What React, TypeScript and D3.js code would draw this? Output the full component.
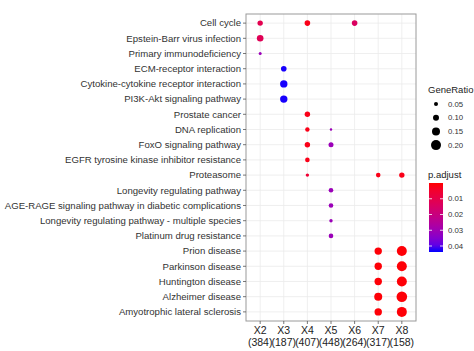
import React from "react";
import * as d3 from "d3";

const pathways = [
  "Cell cycle",
  "Epstein-Barr virus infection",
  "Primary immunodeficiency",
  "ECM-receptor interaction",
  "Cytokine-cytokine receptor interaction",
  "PI3K-Akt signaling pathway",
  "Prostate cancer",
  "DNA replication",
  "FoxO signaling pathway",
  "EGFR tyrosine kinase inhibitor resistance",
  "Proteasome",
  "Longevity regulating pathway",
  "AGE-RAGE signaling pathway in diabetic complications",
  "Longevity regulating pathway - multiple species",
  "Platinum drug resistance",
  "Prion disease",
  "Parkinson disease",
  "Huntington disease",
  "Alzheimer disease",
  "Amyotrophic lateral sclerosis",
];

const clusters = ["X2", "X3", "X4", "X5", "X6", "X7", "X8"];
const clusterCounts = ["(384)", "(187)", "(407)", "(448)", "(264)", "(317)", "(158)"];

const dotPathway = [
  "Cell cycle", "Cell cycle", "Cell cycle",
  "Epstein-Barr virus infection",
  "Primary immunodeficiency",
  "ECM-receptor interaction",
  "Cytokine-cytokine receptor interaction",
  "PI3K-Akt signaling pathway",
  "Prostate cancer",
  "DNA replication", "DNA replication",
  "FoxO signaling pathway", "FoxO signaling pathway",
  "EGFR tyrosine kinase inhibitor resistance",
  "Proteasome", "Proteasome", "Proteasome",
  "Longevity regulating pathway",
  "AGE-RAGE signaling pathway in diabetic complications",
  "Longevity regulating pathway - multiple species",
  "Platinum drug resistance",
  "Prion disease", "Prion disease",
  "Parkinson disease", "Parkinson disease",
  "Huntington disease", "Huntington disease",
  "Alzheimer disease", "Alzheimer disease",
  "Amyotrophic lateral sclerosis", "Amyotrophic lateral sclerosis",
];
const dotCluster = [
  "X2", "X4", "X6",
  "X2",
  "X2",
  "X3",
  "X3",
  "X3",
  "X4",
  "X4", "X5",
  "X4", "X5",
  "X4",
  "X4", "X7", "X8",
  "X5",
  "X5",
  "X5",
  "X5",
  "X7", "X8",
  "X7", "X8",
  "X7", "X8",
  "X7", "X8",
  "X7", "X8",
];
const dotGeneRatio = [
  0.085, 0.09, 0.09,
  0.115,
  0.025,
  0.09,
  0.135,
  0.135,
  0.085,
  0.06, 0.012,
  0.085, 0.075,
  0.065,
  0.035, 0.065, 0.085,
  0.065,
  0.065,
  0.035,
  0.065,
  0.135, 0.2,
  0.135, 0.2,
  0.135, 0.2,
  0.15, 0.215,
  0.135, 0.2,
];
const dotPAdjust = [
  0.011, 0.002, 0.014,
  0.012,
  0.031,
  0.0435,
  0.0435,
  0.0435,
  0.002,
  0.002, 0.031,
  0.002, 0.031,
  0.002,
  0.006, 0.002, 0.002,
  0.031,
  0.031,
  0.031,
  0.031,
  0.0005, 0.0005,
  0.0005, 0.0005,
  0.0005, 0.0005,
  0.0005, 0.0005,
  0.0005, 0.0005,
];

const sizeTicks = [0.05, 0.1, 0.15, 0.2];
const sizeTickLabels = ["0.05", "0.10", "0.15", "0.20"];
const colorTicks = [0.01, 0.02, 0.03, 0.04];
const colorTickLabels = ["0.01", "0.02", "0.03", "0.04"];

const FONT = "'Liberation Sans', Arial, sans-serif";

export default function App() {
  const W = 474;
  const H = 351;
  const panel = { left: 246, right: 416, top: 14, bottom: 321 };

  const x = d3
    .scalePoint<string>()
    .domain(clusters)
    .range([panel.left, panel.right])
    .padding(0.6);
  const y = d3
    .scalePoint<string>()
    .domain(pathways)
    .range([panel.top, panel.bottom])
    .padding(0.6);

  const r = d3.scaleLinear().domain([0, 0.2]).range([1.0, 5.0]);
  const colorDomain = [0, 0.0438];
  const color = d3
    .scaleLinear<string>()
    .domain(colorDomain)
    .range(["#ff0000", "#0000ff"])
    .interpolate(d3.interpolateLab);

  const bar = { x: 429, w: 14, top: 183, bottom: 252 };
  const barY = d3.scaleLinear().domain(colorDomain).range([bar.top, bar.bottom]);
  const gradStops = d3.range(0, 11).map((i) => i / 10);

  const dots = dotPathway.map((p, i) => ({
    p,
    c: dotCluster[i],
    g: dotGeneRatio[i],
    a: dotPAdjust[i],
  }));

  return (
    <svg
      width={W}
      height={H}
      style={{ position: "absolute", left: 0, top: 0, background: "#fff" }}
      fontFamily={FONT}
    >
      <defs>
        <linearGradient id="pgrad" x1="0" y1="0" x2="0" y2="1">
          {gradStops.map((t) => (
            <stop
              key={t}
              offset={t}
              stopColor={color(colorDomain[0] + t * (colorDomain[1] - colorDomain[0]))}
            />
          ))}
        </linearGradient>
      </defs>
      <rect x={0} y={0} width={W} height={H} fill="#fff" />
      {/* grid */}
      {clusters.map((c) => (
        <line
          key={"gx" + c}
          x1={x(c)}
          x2={x(c)}
          y1={panel.top}
          y2={panel.bottom}
          stroke="#ebebeb"
          strokeWidth={0.8}
        />
      ))}
      {pathways.map((p) => (
        <line
          key={"gy" + p}
          x1={panel.left}
          x2={panel.right}
          y1={y(p)}
          y2={y(p)}
          stroke="#ebebeb"
          strokeWidth={0.8}
        />
      ))}
      {/* dots */}
      {dots.map((d, i) => (
        <circle
          key={i}
          cx={x(d.c)}
          cy={y(d.p)}
          r={r(d.g)}
          fill={color(d.a)}
        />
      ))}
      {/* border */}
      <rect
        x={panel.left}
        y={panel.top}
        width={panel.right - panel.left}
        height={panel.bottom - panel.top}
        fill="none"
        stroke="#9a9a9a"
        strokeWidth={1}
      />
      {/* y axis */}
      {pathways.map((p) => (
        <g key={"ya" + p}>
          <line
            x1={panel.left - 3}
            x2={panel.left}
            y1={y(p)}
            y2={y(p)}
            stroke="#555"
            strokeWidth={0.8}
          />
          <text
            x={panel.left - 5}
            y={y(p)}
            dy="0.35em"
            textAnchor="end"
            fontSize={9.6}
            fill="#333"
          >
            {p}
          </text>
        </g>
      ))}
      {/* x axis */}
      {clusters.map((c, i) => (
        <g key={"xa" + c}>
          <line
            x1={x(c)}
            x2={x(c)}
            y1={panel.bottom}
            y2={panel.bottom + 3}
            stroke="#555"
            strokeWidth={0.8}
          />
          <text x={x(c)} y={334} textAnchor="middle" fontSize={10.5} fill="#222">
            {c}
          </text>
          <text x={x(c)} y={346} textAnchor="middle" fontSize={10.5} fill="#222">
            {clusterCounts[i]}
          </text>
        </g>
      ))}
      {/* size legend */}
      <text x={428} y={93} fontSize={9.5} fill="#222">
        GeneRatio
      </text>
      {sizeTicks.map((t, i) => (
        <g key={"sl" + t}>
          <circle cx={436} cy={104 + i * 13.7} r={r(t)} fill="#000" />
          <text x={448} y={104 + i * 13.7} dy="0.35em" fontSize={7.8} fill="#333">
            {sizeTickLabels[i]}
          </text>
        </g>
      ))}
      {/* color legend */}
      <text x={428} y={178} fontSize={9.5} fill="#222">
        p.adjust
      </text>
      <rect x={bar.x} y={bar.top} width={bar.w} height={bar.bottom - bar.top} fill="url(#pgrad)" />
      {colorTicks.map((t, i) => (
        <g key={"cl" + t}>
          <line x1={bar.x} x2={bar.x + 3} y1={barY(t)} y2={barY(t)} stroke="#fff" strokeWidth={0.8} />
          <line x1={bar.x + bar.w - 3} x2={bar.x + bar.w} y1={barY(t)} y2={barY(t)} stroke="#fff" strokeWidth={0.8} />
          <text x={448} y={barY(t)} dy="0.35em" fontSize={7.8} fill="#333">
            {colorTickLabels[i]}
          </text>
        </g>
      ))}
    </svg>
  );
}
